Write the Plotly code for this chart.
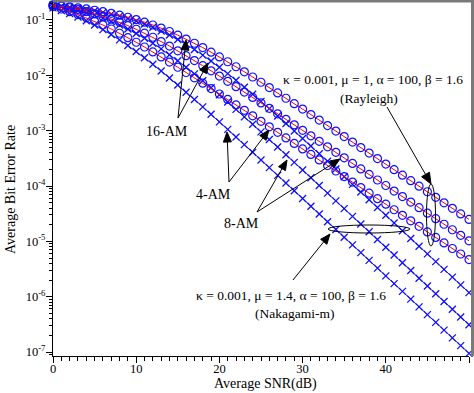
import math
import plotly.graph_objects as go

# ---------------- data ----------------
snr_db = [0, 1, 2, 3, 4, 5, 6, 7, 8, 9, 10, 11, 12, 13, 14, 15, 16, 17, 18, 19, 20,
          21, 22, 23, 24, 25, 26, 27, 28, 29, 30, 31, 32, 33, 34, 35, 36, 37, 38, 39, 40,
          41, 42, 43, 44, 45, 46, 47, 48, 49, 50]

ber_rayleigh_16am = [0.1847, 0.1789, 0.1726, 0.1657, 0.1582, 0.1500, 0.1413, 0.1320, 0.1222, 0.1121,
                     0.1018, 0.0914, 0.0812, 0.0713, 0.0619, 0.0531, 0.0451, 0.0380, 0.0317, 0.0262,
                     0.0215, 0.01758, 0.01429, 0.01156, 0.009326, 0.0075, 0.006016, 0.004816, 0.00385, 0.003074,
                     0.002452, 0.001953, 0.001556, 0.001238, 0.000985, 0.0007835, 0.000623, 0.0004953, 0.0003937, 0.0003129,
                     0.0002486, 0.00019756, 0.00015697, 0.00012471, 9.907e-05, 7.871e-05, 6.253e-05, 4.967e-05, 3.946e-05, 3.134e-05,
                     2.49e-05]

ber_rayleigh_8am = [0.18855, 0.17779, 0.16635, 0.1543, 0.14178, 0.12897, 0.11605, 0.10326, 0.09085, 0.07902,
                    0.06797, 0.05785, 0.04875, 0.04072, 0.03373, 0.02775, 0.02269, 0.01846, 0.014945, 0.01206,
                    0.009701, 0.007786, 0.006235, 0.004985, 0.003981, 0.003176, 0.002531, 0.002016, 0.0016046, 0.0012767,
                    0.0010155, 0.0008075, 0.000642, 0.0005103, 0.0004056, 0.0003223, 0.00025608, 0.00020347, 0.00016166, 0.00012843,
                    0.00010203, 8.105e-05, 6.439e-05, 5.115e-05, 4.063e-05, 3.228e-05, 2.564e-05, 2.037e-05, 1.618e-05, 1.285e-05,
                    1.0208e-05]

ber_rayleigh_4am = [0.17456, 0.15798, 0.14142, 0.12516, 0.10952, 0.09476, 0.08109, 0.0687, 0.05764, 0.04795,
                    0.03959, 0.03247, 0.02648, 0.02149, 0.017374, 0.013999, 0.01125, 0.009017, 0.007215, 0.005766,
                    0.004601, 0.0036689, 0.0029231, 0.0023274, 0.0018524, 0.0014736, 0.0011719, 0.0009318, 0.0007407, 0.0005888,
                    0.0004679, 0.00037179, 0.00029541, 0.00023471, 0.00018648, 0.00014815, 0.00011769, 9.35e-05, 7.427e-05, 5.9e-05,
                    4.687e-05, 3.723e-05, 2.957e-05, 2.349e-05, 1.866e-05, 1.482e-05, 1.177e-05, 9.353e-06, 7.429e-06, 5.901e-06,
                    4.6875e-06]

ber_nakagami_16am = [0.18291, 0.17693, 0.17034, 0.16312, 0.15523, 0.14668, 0.13748, 0.12768, 0.11735, 0.10656,
                     0.095657, 0.084631, 0.073767, 0.063297, 0.053462, 0.044408, 0.036295, 0.029219, 0.023172, 0.018133,
                     0.01402, 0.010723, 0.008126, 0.006107, 0.004561, 0.003386, 0.002502, 0.001842, 0.0013512, 0.00098943,
                     0.00072262, 0.00052704, 0.0003838, 0.0002792, 0.00020301, 0.00014744, 0.00010705, 7.7672e-05, 5.6328e-05, 4.0864e-05,
                     2.9624e-05, 2.1475e-05, 1.5568e-05, 1.1282e-05, 8.1768e-06, 5.9263e-06, 4.2929e-06, 3.1107e-06, 2.2539e-06, 1.6326e-06,
                     1.1829e-06]

ber_nakagami_8am = [0.18448, 0.17317, 0.1611, 0.14836, 0.13509, 0.12148, 0.10774, 0.094171, 0.081039, 0.068621,
                    0.057186, 0.046867, 0.037849, 0.030083, 0.023591, 0.018276, 0.014005, 0.010628, 0.0080006, 0.005979,
                    0.0044442, 0.0032855, 0.0024215, 0.0017773, 0.0013015, 0.00095112, 0.0006937, 0.00050532, 0.00036765, 0.00026727,
                    0.00019422, 0.00014099, 0.00010231, 7.4224e-05, 5.3817e-05, 3.9034e-05, 2.8293e-05, 2.0507e-05, 1.4866e-05, 1.0772e-05,
                    7.8067e-06, 5.6579e-06, 4.1004e-06, 2.9696e-06, 2.1508e-06, 1.5586e-06, 1.1292e-06, 8.1809e-07, 5.927e-07, 4.294e-07,
                    3.1115e-07]

ber_nakagami_4am = [0.16547, 0.14785, 0.13025, 0.11302, 0.096527, 0.081119, 0.067069, 0.054648, 0.043743, 0.034541,
                    0.026937, 0.02076, 0.015827, 0.011962, 0.0089737, 0.0066902, 0.0049597, 0.0036601, 0.0026915, 0.0019736,
                    0.0014434, 0.0010541, 0.00076831, 0.00055937, 0.00040677, 0.0002956, 0.00021469, 0.00015585, 0.00011309, 8.2025e-05,
                    5.9474e-05, 4.3119e-05, 3.1256e-05, 2.2655e-05, 1.642e-05, 1.1896e-05, 8.621e-06, 6.2489e-06, 4.5265e-06, 3.2796e-06,
                    2.3755e-06, 1.7212e-06, 1.2472e-06, 9.0363e-07, 6.5448e-07, 4.7418e-07, 3.4355e-07, 2.4891e-07, 1.8033e-07, 1.3064e-07,
                    9.4622e-08]

x_tick_values = [0, 10, 20, 30, 40, 50]
y_tick_values = [1e-1, 1e-2, 1e-3, 1e-4, 1e-5, 1e-6, 1e-7]
y_tick_labels = ["10<sup>-1</sup>", "10<sup>-2</sup>", "10<sup>-3</sup>", "10<sup>-4</sup>",
                 "10<sup>-5</sup>", "10<sup>-6</sup>", "10<sup>-7</sup>"]

# ---------------- layout geometry ----------------
W, H = 474, 393
ML, MR, MT, MB = 53, 5, 2, 37
PW, PH = W - ML - MR, H - MT - MB
SERIF = "Liberation Serif, Times New Roman, serif"
BLUE = "#1010ff"


def pxx(x):
    return (x - ML) / PW


def pxy(y):
    return (MT + PH - y) / PH


fig = go.Figure()

for ys in [ber_nakagami_16am, ber_nakagami_8am, ber_nakagami_4am]:
    fig.add_trace(go.Scatter(
        x=snr_db, y=ys, mode="lines+markers", cliponaxis=False, showlegend=False,
        line=dict(color=BLUE, width=1),
        marker=dict(symbol="x-thin-open", size=7, color=BLUE, line=dict(color=BLUE, width=1.3)),
    ))

for ys in [ber_rayleigh_16am, ber_rayleigh_8am, ber_rayleigh_4am]:
    fig.add_trace(go.Scatter(
        x=snr_db, y=ys, mode="lines+markers", cliponaxis=False, showlegend=False,
        line=dict(color="#ff0000", width=1),
        marker=dict(symbol="circle-open", size=8, color=BLUE, line=dict(color=BLUE, width=1.2)),
    ))

minor_y = [m * 10.0 ** e for e in range(-8, 0) for m in range(2, 10)]

fig.update_xaxes(
    range=[0, 50], tickvals=x_tick_values, ticks="outside", ticklen=6, tickwidth=1,
    tickcolor="black", showline=True, linecolor="black", linewidth=1, showgrid=False,
    zeroline=False, tickfont=dict(family=SERIF, size=12.5, color="black"),
    ticklabelstandoff=-5,
    minor=dict(ticks="outside", ticklen=4, dtick=1, tickcolor="black", showgrid=False),
)
fig.update_yaxes(
    type="log", range=[-7.072, -0.675], tickvals=y_tick_values, ticktext=y_tick_labels,
    ticks="outside", ticklen=6, tickwidth=1, tickcolor="black", showline=True,
    linecolor="black", linewidth=1, showgrid=False, zeroline=False,
    tickfont=dict(family=SERIF, size=12.5, color="black"),
    ticklabelstandoff=-2,
    minor=dict(ticks="outside", ticklen=3, tickvals=minor_y, tickcolor="black", showgrid=False),
)

shapes = [
    # frame (top and right)
    dict(type="line", xref="paper", yref="paper", x0=0, x1=pxx(474), y0=pxy(1), y1=pxy(1),
         line=dict(color="#7a7a7a", width=3)),
    dict(type="line", xref="paper", yref="paper", x0=pxx(472.5), x1=pxx(472.5), y0=0, y1=pxy(0),
         line=dict(color="#7a7a7a", width=3)),
    # ellipses
    dict(type="circle", xref="paper", yref="paper", x0=pxx(426.5), x1=pxx(435.5), y0=pxy(246), y1=pxy(184),
         line=dict(color="black", width=1)),
    dict(type="circle", xref="paper", yref="paper", x0=pxx(328), x1=pxx(410), y0=pxy(233), y1=pxy(225),
         line=dict(color="black", width=1)),
]


def arrow(tail, tip, head_len=10.0, head_half=4.0):
    dx, dy = tip[0] - tail[0], tip[1] - tail[1]
    n = math.hypot(dx, dy)
    ux, uy = dx / n, dy / n
    bx, by = tip[0] - ux * head_len, tip[1] - uy * head_len
    shapes.append(dict(type="line", xref="paper", yref="paper",
                       x0=pxx(tail[0]), y0=pxy(tail[1]), x1=pxx(bx), y1=pxy(by),
                       line=dict(color="black", width=1)))
    p1 = (bx - uy * head_half, by + ux * head_half)
    p2 = (bx + uy * head_half, by - ux * head_half)
    path = "M {:.5f},{:.5f} L {:.5f},{:.5f} L {:.5f},{:.5f} Z".format(
        pxx(tip[0]), pxy(tip[1]), pxx(p1[0]), pxy(p1[1]), pxx(p2[0]), pxy(p2[1]))
    shapes.append(dict(type="path", xref="paper", yref="paper", path=path,
                       fillcolor="black", line=dict(color="black", width=1)))


arrow((178, 118), (186, 40))
arrow((178, 118), (208, 63))
arrow((229, 182), (227, 132))
arrow((229, 182), (269, 130))
arrow((257, 212), (287, 160))
arrow((257, 212), (340, 159))
arrow((387, 107), (431, 184), 11, 4.5)
arrow((293, 280), (330, 234))

annotations = []


def label(text, x, y, size=13.5, angle=0):
    annotations.append(dict(text=text, x=pxx(x), y=pxy(y), xref="paper", yref="paper",
                            showarrow=False, xanchor="center", yanchor="middle", textangle=angle,
                            font=dict(family=SERIF, size=size, color="black")))


label("16-AM", 167, 132, 14)
label("4-AM", 213, 194, 14)
label("8-AM", 241, 223, 14)
label("κ = 0.001, μ = 1, α = 100, β = 1.6", 373, 80)
label("(Rayleigh)", 369, 98)
label("κ = 0.001, μ = 1.4, α = 100, β = 1.6", 291, 295)
label("(Nakagami-m)", 294, 313)
label("Average SNR(dB)", 265, 384, 14)
label("Average Bit Error Rate", 10, 190, 14, -90)

fig.update_layout(
    width=W, height=H, margin=dict(l=ML, r=MR, t=MT, b=MB, autoexpand=False),
    paper_bgcolor="white", plot_bgcolor="white", showlegend=False,
    shapes=shapes, annotations=annotations,
    font=dict(family=SERIF, color="black"),
)

fig.write_html("out.html", config={"displayModeBar": False},
               post_script="document.body.style.margin='0px';document.body.style.overflow='hidden';")
